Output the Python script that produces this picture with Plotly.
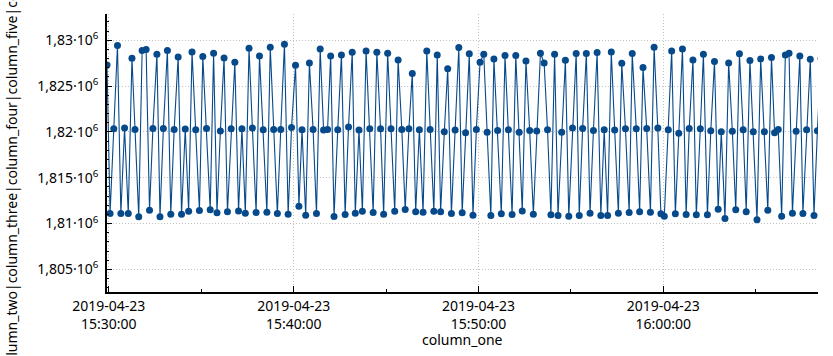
import plotly.graph_objects as go

date = "2019-04-23"
times = [
"15:29:54","15:30:04","15:30:16","15:30:28","15:30:39","15:30:51","15:31:03","15:31:15","15:31:25","15:31:37",
"15:31:48","15:32:01","15:32:12","15:32:23","15:32:36","15:32:46","15:32:57","15:33:10","15:33:21","15:33:32",
"15:33:45","15:33:56","15:34:08","15:34:19","15:34:30","15:34:42","15:34:54","15:35:05","15:35:17","15:35:29",
"15:35:40","15:35:51","15:36:02","15:36:14","15:36:25","15:36:37","15:36:49","15:37:01","15:37:12","15:37:23",
"15:37:35","15:37:46","15:37:58","15:38:09","15:38:21","15:38:33","15:38:44","15:38:55","15:39:07","15:39:18",
"15:39:30","15:39:42","15:39:53","15:40:06","15:40:17","15:40:27","15:40:39","15:40:51","15:41:03","15:41:14",
"15:41:26","15:41:37","15:41:50","15:42:00","15:42:11","15:42:23","15:42:35","15:42:47","15:42:58","15:43:10",
"15:43:20","15:43:32","15:43:43","15:43:55","15:44:07","15:44:18","15:44:30","15:44:42","15:44:52","15:45:05",
"15:45:16","15:45:28","15:45:39","15:45:51","15:46:02","15:46:14","15:46:25","15:46:36","15:46:48","15:47:00",
"15:47:12","15:47:23","15:47:35","15:47:46","15:47:57","15:48:09","15:48:20","15:48:32","15:48:44","15:48:56",
"15:49:07","15:49:18","15:49:30","15:49:42","15:49:53","15:50:05","15:50:17","15:50:28","15:50:40","15:50:50",
"15:51:02","15:51:14","15:51:26","15:51:37","15:51:49","15:52:01","15:52:12","15:52:22","15:52:34","15:52:46",
"15:52:58","15:53:09","15:53:21","15:53:33","15:53:44","15:53:55","15:54:07","15:54:18","15:54:30","15:54:42",
"15:54:53","15:55:05","15:55:17","15:55:27","15:55:38","15:55:50","15:56:02","15:56:13","15:56:25","15:56:37",
"15:56:48","15:56:59","15:57:11","15:57:22","15:57:34","15:57:45","15:57:57","15:58:09","15:58:19","15:58:32",
"15:58:43","15:58:54","15:59:06","15:59:18","15:59:30","15:59:42","15:59:52","16:00:03","16:00:16","16:00:27",
"16:00:39","16:00:50","16:01:02","16:01:14","16:01:24","16:01:36","16:01:47","16:02:00","16:02:10","16:02:23",
"16:02:34","16:02:46","16:02:58","16:03:08","16:03:20","16:03:32","16:03:44","16:03:55","16:04:07","16:04:19",
"16:04:29","16:04:41","16:04:52","16:05:04","16:05:16","16:05:28","16:05:39","16:05:51","16:06:01","16:06:13",
"16:06:24","16:06:36","16:06:48","16:06:59","16:07:11","16:07:23","16:07:33","16:07:45","16:07:57","16:08:09",
"16:08:20","16:08:32"]

values = [
1827300, 1811090, 1820350, 1829420, 1811090, 1820420, 1811090, 1828030, 1820270, 1810730,
1828870, 1828980, 1811460, 1820380, 1828470, 1810730, 1820380, 1828870, 1811020, 1820270,
1828180, 1811020, 1820310, 1811350, 1828720, 1820240, 1811420, 1828220, 1820380, 1811490,
1828580, 1811170, 1820090, 1828070, 1811280, 1820350, 1827600, 1811380, 1820350, 1811130,
1829130, 1820420, 1811200, 1828290, 1820240, 1811240, 1829240, 1820270, 1811090, 1820270,
1829560, 1811020, 1820490, 1827270, 1811890, 1820240, 1810910, 1827520, 1820270, 1811090,
1829050, 1820200, 1820270, 1828290, 1810770, 1820240, 1828400, 1810980, 1820530, 1828690,
1811130, 1820200, 1811350, 1828830, 1820350, 1811200, 1828690, 1820350, 1811020, 1828580,
1820350, 1811350, 1827850, 1820270, 1811530, 1820350, 1826360, 1811280, 1820240, 1811240,
1828830, 1820270, 1811350, 1828400, 1811280, 1820020, 1826900, 1811090, 1820200, 1829200,
1811170, 1819910, 1828510, 1810910, 1820270, 1827600, 1828470, 1819950, 1810870, 1827960,
1820160, 1811060, 1828320, 1820240, 1810980, 1828320, 1819950, 1811380, 1827740, 1820160,
1811020, 1820090, 1828580, 1827520, 1820240, 1810950, 1828470, 1810870, 1819950, 1827810,
1810800, 1820420, 1828540, 1810870, 1820380, 1828540, 1811130, 1820160, 1828650, 1810870,
1820240, 1810870, 1828720, 1820200, 1811130, 1827490, 1820350, 1811200, 1828540, 1820350,
1811280, 1827010, 1820380, 1811240, 1829240, 1820420, 1811060, 1810800, 1820240, 1828830,
1811060, 1819840, 1829050, 1810980, 1820380, 1827850, 1810950, 1820350, 1828470, 1810950,
1820130, 1827670, 1811570, 1820020, 1810550, 1827520, 1820060, 1811490, 1828510, 1820240,
1811280, 1827780, 1820020, 1810400, 1827960, 1820020, 1811460, 1828110, 1819910, 1820270,
1810800, 1828400, 1828580, 1811130, 1820060, 1828290, 1811090, 1820240, 1827920, 1810870,
1820130, 1828000]

y_tick_values = [1805000, 1810000, 1815000, 1820000, 1825000, 1830000]
y_tick_labels = ["1,805·10<sup>6</sup>", "1,81·10<sup>6</sup>", "1,815·10<sup>6</sup>",
                 "1,82·10<sup>6</sup>", "1,825·10<sup>6</sup>", "1,83·10<sup>6</sup>"]
x_tick_values = ["15:30:00", "15:40:00", "15:50:00", "16:00:00"]
x_tick_labels = [f"{date}<br>{t}" for t in x_tick_values]

x_title = "column_one"
y_title = "column_two|column_three|column_four|column_five|column_six"

x = [f"{date} {t}" for t in times]
color = "#074a8c"
font = "Noto Sans"
grid = "#c2c2c2"

fig = go.Figure(go.Scatter(
    x=x, y=values, mode="lines+markers",
    line=dict(color=color, width=1.1),
    marker=dict(color=color, size=7),
))

fig.update_layout(
    width=833, height=356,
    margin=dict(l=107, r=15, t=14, b=64),
    paper_bgcolor="white", plot_bgcolor="white",
    showlegend=False,
    font=dict(family=font, size=14, color="#000000"),
    xaxis=dict(
        range=[f"{date} 15:29:54", f"{date} 16:08:22"],
        tickmode="array",
        tickvals=[f"{date} {t}" for t in x_tick_values],
        ticktext=x_tick_labels,
        ticks="inside", ticklen=6, tickwidth=1, tickcolor="black",
        showline=True, linecolor="black", linewidth=1.5,
        showgrid=True, gridcolor=grid, griddash="1px,2px", gridwidth=1,
        zeroline=False,
        minor=dict(ticks="inside", ticklen=3, tickcolor="black",
                   dtick=300000, tick0=f"{date} 15:30:00", showgrid=False),
        tickfont=dict(family=font, size=14),
        automargin=False,
    ),
    yaxis=dict(
        range=[1802530, 1832860],
        tickmode="array",
        tickvals=y_tick_values,
        ticktext=y_tick_labels,
        ticks="inside", ticklen=5, tickwidth=1, tickcolor="black",
        showline=True, linecolor="black", linewidth=1.5,
        showgrid=True, gridcolor=grid, griddash="1px,2px", gridwidth=1,
        zeroline=False,
        minor=dict(ticks="inside", ticklen=2.5, tickcolor="black",
                   dtick=1000, tick0=1800000, showgrid=False),
        tickfont=dict(family=font, size=14),
        ticklabelstandoff=4,
        automargin=False,
    ),
    annotations=[
        dict(text=x_title, xref="paper", yref="paper", x=0.5, y=-0.17,
             xanchor="center", yanchor="middle", showarrow=False,
             font=dict(family=font, size=14)),
        dict(text=y_title, xref="paper", yref="paper", x=-0.135, y=0.5,
             xanchor="center", yanchor="middle", textangle=-90, showarrow=False,
             font=dict(family=font, size=14)),
    ],
)

fig.write_html("out.html", config={"displayModeBar": False},
               post_script="document.body.style.margin='0';document.body.style.overflow='hidden';")
